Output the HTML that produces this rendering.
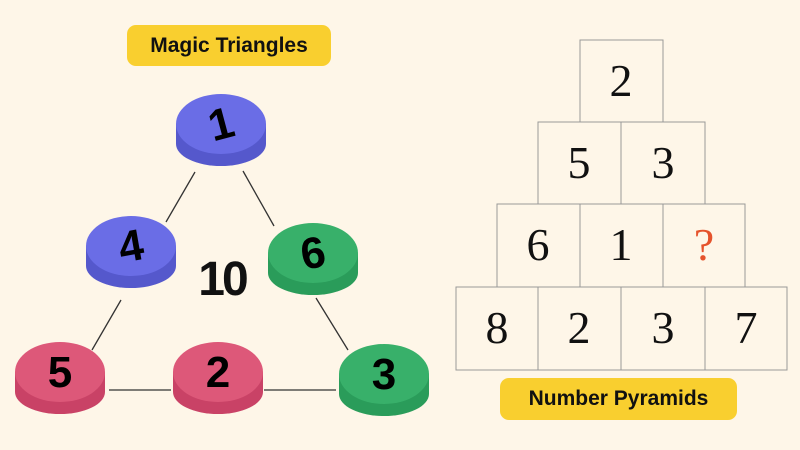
<!DOCTYPE html>
<html><head><style>
body{margin:0;background:#fef6e8;width:800px;height:450px;overflow:hidden;font-family:"Liberation Sans",sans-serif}
.lab{position:absolute;background:#f9cf2f;border-radius:9px;font-weight:bold;font-size:21px;color:#111;text-align:center}
</style></head><body>
<div class="lab" style="left:127px;top:25px;width:204px;height:41px;line-height:41px">Magic Triangles</div>
<div class="lab" style="left:500px;top:378px;width:237px;height:42px;line-height:42px">Number Pyramids</div>
<svg width="800" height="450" style="position:absolute;left:0;top:0">
<g stroke="#333" stroke-width="1.3">
<line x1="195" y1="172" x2="166" y2="222"/><line x1="243" y1="171" x2="274" y2="226"/>
<line x1="121" y1="300" x2="92" y2="350"/><line x1="316" y1="298" x2="348" y2="350"/>
<line x1="109" y1="390" x2="171" y2="390"/><line x1="264" y1="390" x2="336" y2="390"/>
</g>
<defs>
<g id="d"><rect x="-45" y="0" width="90" height="20"/><ellipse cx="0" cy="20" rx="45" ry="22"/></g>
</defs>
<g font-family="Liberation Sans" font-weight="bold" font-size="44" text-anchor="middle">
<g transform="translate(221,124)"><use href="#d" fill="#5558cc"/><ellipse rx="45" ry="30" fill="#6a6de6"/><text y="15" transform="rotate(-15)">1</text></g>
<g transform="translate(131,246)"><use href="#d" fill="#5558cc"/><ellipse rx="45" ry="30" fill="#6a6de6"/><text y="15" transform="rotate(-10)">4</text></g>
<g transform="translate(313,253)"><use href="#d" fill="#2a9c5a"/><ellipse rx="45" ry="30" fill="#38b06a"/><text y="15" transform="rotate(-10)">6</text></g>
<g transform="translate(60,372)"><use href="#d" fill="#c94266"/><ellipse rx="45" ry="30" fill="#dd5879"/><text y="15">5</text></g>
<g transform="translate(218,372)"><use href="#d" fill="#c94266"/><ellipse rx="45" ry="30" fill="#dd5879"/><text y="15">2</text></g>
<g transform="translate(384,374)"><use href="#d" fill="#2a9c5a"/><ellipse rx="45" ry="30" fill="#38b06a"/><text y="15">3</text></g>
<text x="222" y="295" font-size="48" letter-spacing="-3" fill="#111">10</text>
</g>
<g fill="none" stroke="#999" stroke-width="1">
<rect x="580" y="40" width="83" height="82"/>
<rect x="538" y="122" width="83" height="82"/><rect x="621" y="122" width="84" height="82"/>
<rect x="497" y="204" width="83" height="83"/><rect x="580" y="204" width="83" height="83"/><rect x="663" y="204" width="82" height="83"/>
<rect x="456" y="287" width="82" height="83"/><rect x="538" y="287" width="83" height="83"/><rect x="621" y="287" width="84" height="83"/><rect x="705" y="287" width="82" height="83"/>
</g>
<g font-family="Liberation Serif" font-size="46" text-anchor="middle" fill="#111">
<text x="621" y="96">2</text>
<text x="579" y="178">5</text><text x="663" y="178">3</text>
<text x="538" y="260">6</text><text x="621" y="260">1</text><text x="704" y="260" fill="#e5532c">?</text>
<text x="497" y="343">8</text><text x="579" y="343">2</text><text x="663" y="343">3</text><text x="746" y="343">7</text>
</g>
</svg>
</body></html>
